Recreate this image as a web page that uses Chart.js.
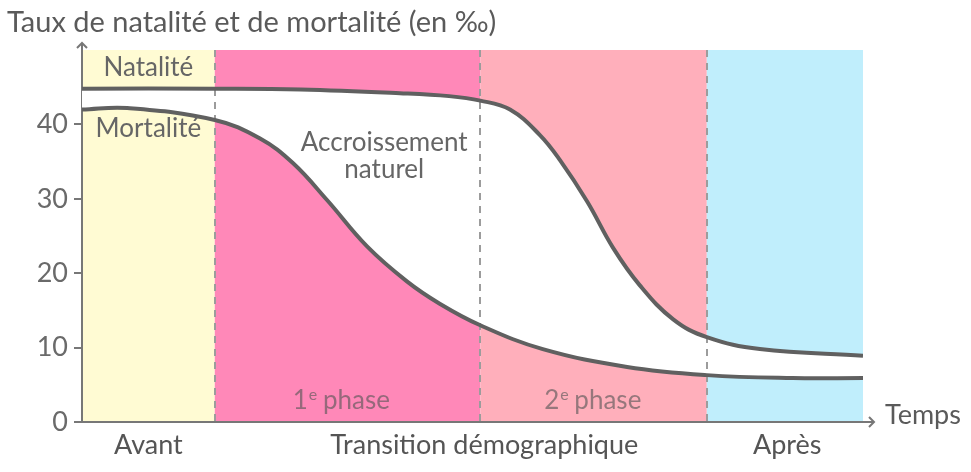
<!DOCTYPE html>
<html lang="fr">
<head>
<meta charset="UTF-8">
<title>Transition démographique</title>
<script src="https://cdn.jsdelivr.net/npm/chart.js"></script>
<style>
  html, body { margin: 0; padding: 0; background: #fff; }
  canvas { display: block; }
</style>
</head>
<body>
<canvas id="chart" width="971" height="472"></canvas>
<script>
// time axis has no unit: 0 = start of the graph, 100 = end
const timeNatalite = [0, 17, 28, 40.7, 47, 51, 54.8, 58.6, 61.2, 64.7, 68, 71.4, 75.7, 80, 86.8, 100];
const natalite     = [44.8, 44.8, 44.7, 44.2, 43.8, 43.2, 42.0, 38.6, 35.2, 29.6, 23.4, 18.4, 13.8, 11.4, 9.8, 8.9];
const timeMortalite = [0, 5.8, 17, 22.8, 27, 31.4, 36.5, 41.6, 45.8, 51, 59, 69.8, 80, 91, 100];
const mortalite     = [42.0, 42.2, 40.6, 38.1, 34.8, 29.8, 23.6, 18.9, 15.9, 13.0, 9.8, 7.4, 6.3, 5.9, 5.9];

// periods (background bands) and the labels under the x axis
const periodBounds = [0, 17, 51, 80, 100];
const periodColors = ['#fffbd3', '#ff88b8', '#ffafbb', '#c0eefc'];
const periodLabels = ['Avant', 'Transition démographique', 'Après'];
const periodLabelPos = [8.5, 51.5, 90.3];
const yTicks = [0, 10, 20, 30, 40];

const FONT = 'Lato, "Open Sans", sans-serif';
const GREY = '#606060';

// draw text with a superscript part: [normal, sup, rest]
function supText(ctx, parts, cx, cy, size) {
  ctx.font = size + 'px ' + FONT;
  const w0 = ctx.measureText(parts[0]).width;
  const w2 = ctx.measureText(parts[2]).width;
  ctx.font = Math.round(size * 0.6) + 'px ' + FONT;
  const w1 = ctx.measureText(parts[1]).width;
  let x = cx - (w0 + w1 + w2) / 2;
  ctx.textAlign = 'left';
  ctx.textBaseline = 'alphabetic';
  ctx.font = size + 'px ' + FONT;
  ctx.fillText(parts[0], x, cy);
  x += w0;
  ctx.font = Math.round(size * 0.6) + 'px ' + FONT;
  ctx.fillText(parts[1], x + 1, cy - size * 0.36);
  x += w1;
  ctx.font = size + 'px ' + FONT;
  ctx.fillText(parts[2], x, cy);
}

const decor = {
  id: 'decor',
  beforeDraw(chart) {
    const { ctx, chartArea: a, scales: { x } } = chart;
    ctx.save();
    for (let i = 0; i < periodColors.length; i++) {
      const x0 = x.getPixelForValue(periodBounds[i]);
      const x1 = x.getPixelForValue(periodBounds[i + 1]);
      ctx.fillStyle = periodColors[i];
      ctx.fillRect(x0, a.top, x1 - x0, a.bottom - a.top);
    }
    ctx.restore();
  },
  beforeDatasetsDraw(chart) {
    // dashed separators, on top of the white fill but under the curves
    const { ctx, chartArea: a, scales: { x } } = chart;
    ctx.save();
    ctx.strokeStyle = '#9c9c9c';
    ctx.lineWidth = 2;
    ctx.setLineDash([7, 6]);
    for (let i = 1; i < periodBounds.length - 1; i++) {
      const px = Math.round(x.getPixelForValue(periodBounds[i]));
      ctx.beginPath();
      ctx.moveTo(px, a.top);
      ctx.lineTo(px, a.bottom);
      ctx.stroke();
    }
    ctx.restore();
  },
  afterDatasetsDraw(chart) {
    const { ctx, chartArea: a, scales: { x, y } } = chart;
    ctx.save();
    // axis arrows
    ctx.strokeStyle = '#777';
    ctx.lineWidth = 2;
    ctx.beginPath();
    ctx.moveTo(a.left, a.top);
    ctx.lineTo(a.left, a.top - 7);
    ctx.moveTo(a.left - 5, a.top - 2);
    ctx.lineTo(a.left, a.top - 7);
    ctx.lineTo(a.left + 5, a.top - 2);
    ctx.moveTo(a.right, a.bottom);
    ctx.lineTo(a.right + 11, a.bottom);
    ctx.moveTo(a.right + 6, a.bottom - 5);
    ctx.lineTo(a.right + 11, a.bottom);
    ctx.lineTo(a.right + 6, a.bottom + 5);
    ctx.stroke();

    // titles of the axes
    ctx.fillStyle = '#5a5a5a';
    ctx.font = '29px ' + FONT;
    ctx.textAlign = 'left';
    ctx.textBaseline = 'middle';
    ctx.fillText('Taux de natalité et de mortalité (en ‰)', 7, 23);
    ctx.font = '27px ' + FONT;
    ctx.textBaseline = 'alphabetic';
    ctx.fillText('Temps', 885, 424);

    // labels inside the plot
    ctx.fillStyle = '#666';
    ctx.font = '26px ' + FONT;
    ctx.textAlign = 'center';
    ctx.textBaseline = 'middle';
    ctx.fillText('Natalité', x.getPixelForValue(8.5), y.getPixelForValue(47.6));
    ctx.fillText('Mortalité', x.getPixelForValue(8.5), y.getPixelForValue(39.5));
    ctx.fillText('Accroissement', x.getPixelForValue(38.7), y.getPixelForValue(37.6));
    ctx.fillText('naturel', x.getPixelForValue(38.7), y.getPixelForValue(33.9));

    ctx.fillStyle = 'rgba(85, 85, 85, 0.62)';
    supText(ctx, ['1', 'e', ' phase'], x.getPixelForValue(33.2), y.getPixelForValue(1.7), 26);
    supText(ctx, ['2', 'e', ' phase'], x.getPixelForValue(65.4), y.getPixelForValue(1.7), 26);
    ctx.restore();
  }
};

const ctx = document.getElementById('chart').getContext('2d');
new Chart(ctx, {
  type: 'line',
  data: {
    datasets: [
      {
        label: 'Natalité',
        data: timeNatalite.map((t, i) => ({ x: t, y: natalite[i] })),
        borderColor: GREY,
        borderWidth: 4,
        pointRadius: 0,
        tension: 0.4,
        fill: false
      },
      {
        label: 'Mortalité',
        data: timeMortalite.map((t, i) => ({ x: t, y: mortalite[i] })),
        borderColor: GREY,
        borderWidth: 4,
        pointRadius: 0,
        tension: 0.4,
        backgroundColor: '#ffffff',
        fill: { target: 0, above: '#ffffff', below: '#ffffff' }
      }
    ]
  },
  options: {
    responsive: false,
    animation: false,
    devicePixelRatio: 1,
    layout: { padding: { top: 50, right: 108, left: 0, bottom: 0 } },
    plugins: {
      legend: { display: false },
      tooltip: { enabled: false },
      filler: { drawTime: 'beforeDatasetsDraw' }
    },
    scales: {
      x: {
        type: 'linear',
        min: 0,
        max: 100,
        afterBuildTicks: (scale) => { scale.ticks = periodLabelPos.map(v => ({ value: v })); },
        afterFit: (scale) => { scale.height = 50; },
        grid: { drawOnChartArea: false, drawTicks: false },
        border: { color: '#777', width: 2 },
        ticks: {
          autoSkip: false,
          maxRotation: 0,
          padding: 7,
          color: '#555',
          font: { family: FONT, size: 27 },
          callback: (v, i) => periodLabels[i]
        }
      },
      y: {
        min: 0,
        max: 50,
        afterBuildTicks: (scale) => { scale.ticks = yTicks.map(v => ({ value: v })); },
        afterFit: (scale) => { scale.width = 82; },
        grid: { drawOnChartArea: false, tickLength: 8, color: '#777', lineWidth: 2 },
        border: { color: '#777', width: 2 },
        ticks: {
          padding: 6,
          color: '#6a6a6a',
          font: { family: FONT, size: 27 }
        }
      }
    }
  },
  plugins: [decor]
});
</script>
</body>
</html>
